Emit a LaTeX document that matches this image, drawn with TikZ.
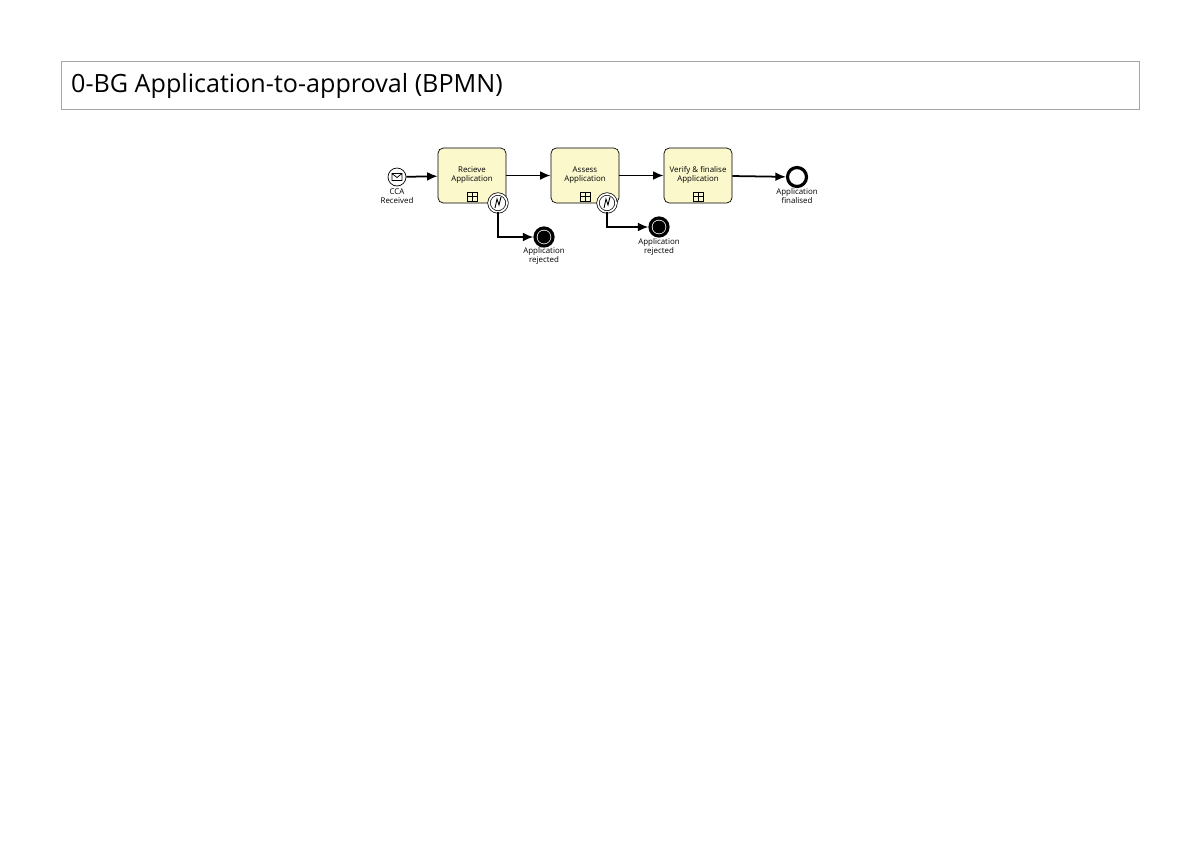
\documentclass[tikz,border=0pt]{standalone}
\usepackage{fontspec}
\setmainfont{Open Sans}
\usetikzlibrary{arrows.meta}

\tikzset{
	task/.style={draw, rounded corners=3pt, fill=taskfill, minimum width=1.36cm, minimum height=1.1cm, inner sep=0pt},
	tasktext/.style={font=\fontsize{4.5}{5}\selectfont, align=center},
	evlabel/.style={font=\fontsize{4.5}{5}\selectfont, align=center, inner sep=0pt},
	flow/.style={-{Latex[length=6pt,width=5pt]}, line width=1pt},
}
\definecolor{taskfill}{HTML}{FBF8CC}

\begin{document}
\begin{tikzpicture}[x=0.02cm, y=-0.02cm]
	\useasboundingbox (0,0) rectangle (1200,849);
	% title
	\draw[gray!70] (61,61) rectangle (1139,109);
	\node[anchor=west, font=\fontsize{14.3}{16}\selectfont] (title) at (65,86) {0-BG Application-to-approval (BPMN)};

	% start event
	\node[draw, circle, minimum size=0.36cm, inner sep=0pt, fill=white] (start) at (397,177) {};
	\draw (392,173.5) rectangle (402,180.5) (392,173.5) -- (397,177.5) -- (402,173.5);
	\node[evlabel] (startlbl) at (397,196) {CCA\\Received};

	% tasks
	\node[task] (receive) at (472,175.5) {};
	\node[task] (assess) at (585,175.5) {};
	\node[task] (verify) at (698,175.5) {};
	\node[tasktext] at (472,175) {Recieve\\Application};
	\node[tasktext] at (585,175) {Assess\\Application};
	\node[tasktext] at (698,175) {Verify \& finalise\\Application};
	\foreach \x in {472,585,698}{
		\draw (\x-5,192) rectangle (\x+5,201);
		\draw (\x,192) -- (\x,201) (\x-5,196.5) -- (\x+5,196.5);
	}

	% end event
	\node[draw, circle, line width=1.8pt, minimum size=0.38cm, inner sep=0pt, fill=white] (finish) at (797,177) {};
	\node[evlabel] (finishlbl) at (797,196) {Application\\finalised};

	% boundary error events
	\foreach \n/\x in {errA/498, errB/607}{
		\node[draw, circle, double, double distance=1pt, minimum size=0.36cm, inner sep=0pt, fill=white] (\n) at (\x,203) {};
		\draw[line width=0.5pt] (\x-3,208) -- (\x-1,199) -- (\x+1,205) -- (\x+3,197);
	}

	% error end events
	\node[draw, circle, line width=1.8pt, minimum size=0.36cm, inner sep=0pt, fill=white] (rejA) at (544,237) {};
	\fill (rejA) circle (6.5);
	\node[evlabel] (rejAlbl) at (544,256) {Application\\rejected};
	\node[draw, circle, line width=1.8pt, minimum size=0.36cm, inner sep=0pt, fill=white] (rejB) at (659,227) {};
	\fill (rejB) circle (6.5);
	\node[evlabel] (rejBlbl) at (659,247) {Application\\rejected};

	% flows
	\draw[flow] (start) -- (receive);
	\draw[flow] (receive) -- (assess);
	\draw[flow] (assess) -- (verify);
	\draw[flow] (verify) -- (finish);
	\draw[flow] (errA) |- (rejA);
	\draw[flow] (errB) |- (rejB);
\end{tikzpicture}
\end{document}
